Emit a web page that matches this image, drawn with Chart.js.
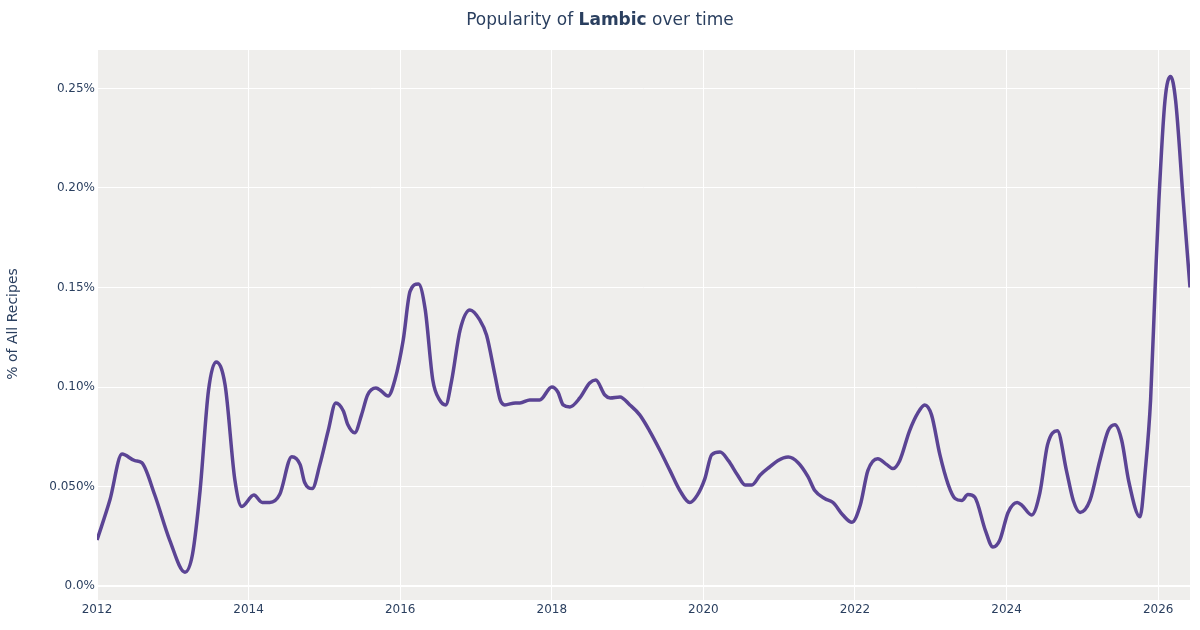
<!DOCTYPE html>
<html>
<head>
<meta charset="utf-8">
<script src="https://cdn.jsdelivr.net/npm/chart.js@4"></script>
<style>
  html, body { margin: 0; padding: 0; background: #fff; }
  #wrap { width: 1200px; height: 630px; }
</style>
</head>
<body>
<div id="wrap"><canvas id="chart" width="1200" height="630"></canvas></div>
<script>
// Time points (decimal years) and share of recipes (in percent)
const years = [
    2012.00, 2012.17, 2012.33, 2012.50, 2012.59, 2012.76, 2012.96, 2013.16, 2013.26, 2013.36,
    2013.47, 2013.57, 2013.69, 2013.82, 2013.91, 2014.07, 2014.18, 2014.28, 2014.41, 2014.57,
    2014.68, 2014.74, 2014.84, 2014.94, 2015.05, 2015.15, 2015.25, 2015.31, 2015.40, 2015.49,
    2015.57, 2015.68, 2015.75, 2015.84, 2015.93, 2016.04, 2016.13, 2016.24, 2016.33, 2016.43,
    2016.52, 2016.60, 2016.68, 2016.79, 2016.92, 2017.05, 2017.14, 2017.25, 2017.32, 2017.38,
    2017.52, 2017.58, 2017.71, 2017.84, 2018.00, 2018.08, 2018.15, 2018.24, 2018.37, 2018.50,
    2018.58, 2018.70, 2018.77, 2018.90, 2019.03, 2019.16, 2019.29, 2019.43, 2019.56, 2019.69,
    2019.82, 2019.92, 2020.02, 2020.11, 2020.22, 2020.33, 2020.45, 2020.55, 2020.64, 2020.75,
    2020.88, 2020.98, 2021.12, 2021.25, 2021.38, 2021.47, 2021.60, 2021.71, 2021.84, 2021.96,
    2022.07, 2022.17, 2022.30, 2022.42, 2022.50, 2022.59, 2022.72, 2022.83, 2022.92, 2023.01,
    2023.12, 2023.23, 2023.32, 2023.41, 2023.49, 2023.58, 2023.72, 2023.82, 2023.91, 2024.02,
    2024.14, 2024.20, 2024.33, 2024.44, 2024.54, 2024.67, 2024.79, 2024.88, 2024.97, 2025.10,
    2025.23, 2025.34, 2025.43, 2025.52, 2025.61, 2025.76, 2025.83, 2025.90, 2025.96, 2026.01,
    2026.09, 2026.165, 2026.23, 2026.33, 2026.42
];
const shares = [
    0.0231, 0.0432, 0.0663, 0.0630, 0.0620, 0.0460, 0.0230, 0.0070, 0.0160, 0.0480,
    0.0980, 0.1126, 0.1010, 0.0530, 0.0400, 0.0457, 0.0420, 0.0420, 0.0460, 0.0650,
    0.0610, 0.0520, 0.0490, 0.0610, 0.0780, 0.0920, 0.0880, 0.0810, 0.0770, 0.0860,
    0.0960, 0.0995, 0.0980, 0.0955, 0.1035, 0.1236, 0.1480, 0.1518, 0.1390, 0.1035,
    0.0935, 0.0910, 0.1035, 0.1286, 0.1387, 0.1337, 0.1260, 0.1060, 0.0935, 0.0910,
    0.0920, 0.0920, 0.0935, 0.0935, 0.1000, 0.0975, 0.0910, 0.0900, 0.0945, 0.1020,
    0.1035, 0.0960, 0.0945, 0.0950, 0.0910, 0.0860, 0.0780, 0.0680, 0.0580, 0.0480,
    0.0420, 0.0457, 0.0540, 0.0660, 0.0673, 0.0630, 0.0558, 0.0508, 0.0508, 0.0558,
    0.0600, 0.0630, 0.0648, 0.0620, 0.0550, 0.0480, 0.0440, 0.0420, 0.0357, 0.0320,
    0.0407, 0.0580, 0.0640, 0.0610, 0.0590, 0.0630, 0.0780, 0.0870, 0.0910, 0.0860,
    0.0660, 0.0510, 0.0440, 0.0430, 0.0460, 0.0447, 0.0280, 0.0196, 0.0230, 0.0370,
    0.0420, 0.0407, 0.0357, 0.0470, 0.0709, 0.0780, 0.0580, 0.0430, 0.0370, 0.0430,
    0.0630, 0.0780, 0.0810, 0.0730, 0.0530, 0.0348, 0.0580, 0.0935, 0.1500, 0.1940,
    0.2440, 0.2560, 0.2440, 0.1940, 0.1500
];

// Axis ticks
const yearTicks = [2012, 2014, 2016, 2018, 2020, 2022, 2024, 2026];
const shareTicks = [0, 0.05, 0.10, 0.15, 0.20, 0.25];
const shareTickLabels = ['0.0%', '0.050%', '0.10%', '0.15%', '0.20%', '0.25%'];

const textColor = '#2a3f5f';
const fontFamily = '"DejaVu Sans", Verdana, sans-serif';

// Plot background, title and y axis title
const decorPlugin = {
    id: 'decor',
    beforeDraw(chart) {
        const { ctx, chartArea } = chart;
        ctx.save();
        ctx.fillStyle = '#efeeec';
        ctx.fillRect(chartArea.left, chartArea.top, chartArea.right - chartArea.left, chartArea.bottom - chartArea.top);
        ctx.restore();
    },
    afterDraw(chart) {
        const { ctx } = chart;
        ctx.save();
        ctx.fillStyle = textColor;
        ctx.textBaseline = 'middle';

        // title with bold word
        const parts = [
            { text: 'Popularity of ', weight: 'normal' },
            { text: 'Lambic', weight: 'bold' },
            { text: ' over time', weight: 'normal' },
        ];
        let total = 0;
        parts.forEach((p) => {
            ctx.font = p.weight + ' 17px ' + fontFamily;
            p.w = ctx.measureText(p.text).width;
            total += p.w;
        });
        let x = 600 - total / 2;
        ctx.textAlign = 'left';
        parts.forEach((p) => {
            ctx.font = p.weight + ' 17px ' + fontFamily;
            ctx.fillText(p.text, x, 21);
            x += p.w;
        });

        // y axis title
        ctx.translate(13, 324);
        ctx.rotate(-Math.PI / 2);
        ctx.textAlign = 'center';
        ctx.font = '14px ' + fontFamily;
        ctx.fillText('% of All Recipes', 0, 0);
        ctx.restore();
    },
};

const ctx = document.getElementById('chart').getContext('2d');
new Chart(ctx, {
    type: 'line',
    data: {
        datasets: [
            {
                data: years.map((y, i) => ({ x: y, y: shares[i] })),
                borderColor: '#5b4494',
                borderWidth: 3.5,
                pointRadius: 0,
                cubicInterpolationMode: 'monotone',
                fill: false,
            },
        ],
    },
    options: {
        responsive: false,
        animation: false,
        layout: { padding: { top: 50, right: 10, left: 0, bottom: 0 } },
        plugins: {
            legend: { display: false },
            tooltip: { enabled: false },
        },
        scales: {
            x: {
                type: 'linear',
                min: 2012,
                max: 2026.42,
                afterFit: (scale) => { scale.height = 30; },
                afterBuildTicks: (scale) => {
                    scale.ticks = yearTicks.map((v) => ({ value: v }));
                },
                ticks: {
                    color: textColor,
                    font: { family: fontFamily, size: 12 },
                    padding: 3,
                    maxRotation: 0,
                    autoSkip: false,
                    callback: (v) => String(v),
                },
                grid: { color: '#ffffff', lineWidth: 1, drawTicks: false },
                border: { display: false },
            },
            y: {
                type: 'linear',
                min: -0.007,
                max: 0.2693,
                afterFit: (scale) => { scale.width = 97; },
                afterBuildTicks: (scale) => {
                    scale.ticks = shareTicks.map((v) => ({ value: v }));
                },
                ticks: {
                    color: textColor,
                    font: { family: fontFamily, size: 12 },
                    padding: 2,
                    autoSkip: false,
                    callback: (v) => {
                        const i = shareTicks.findIndex((t) => Math.abs(t - v) < 1e-9);
                        return i >= 0 ? shareTickLabels[i] : '';
                    },
                },
                grid: {
                    color: '#ffffff',
                    lineWidth: (c) => (c.tick && c.tick.value === 0 ? 2 : 1),
                    drawTicks: false,
                },
                border: { display: false },
            },
        },
    },
    plugins: [decorPlugin],
});
</script>
</body>
</html>
